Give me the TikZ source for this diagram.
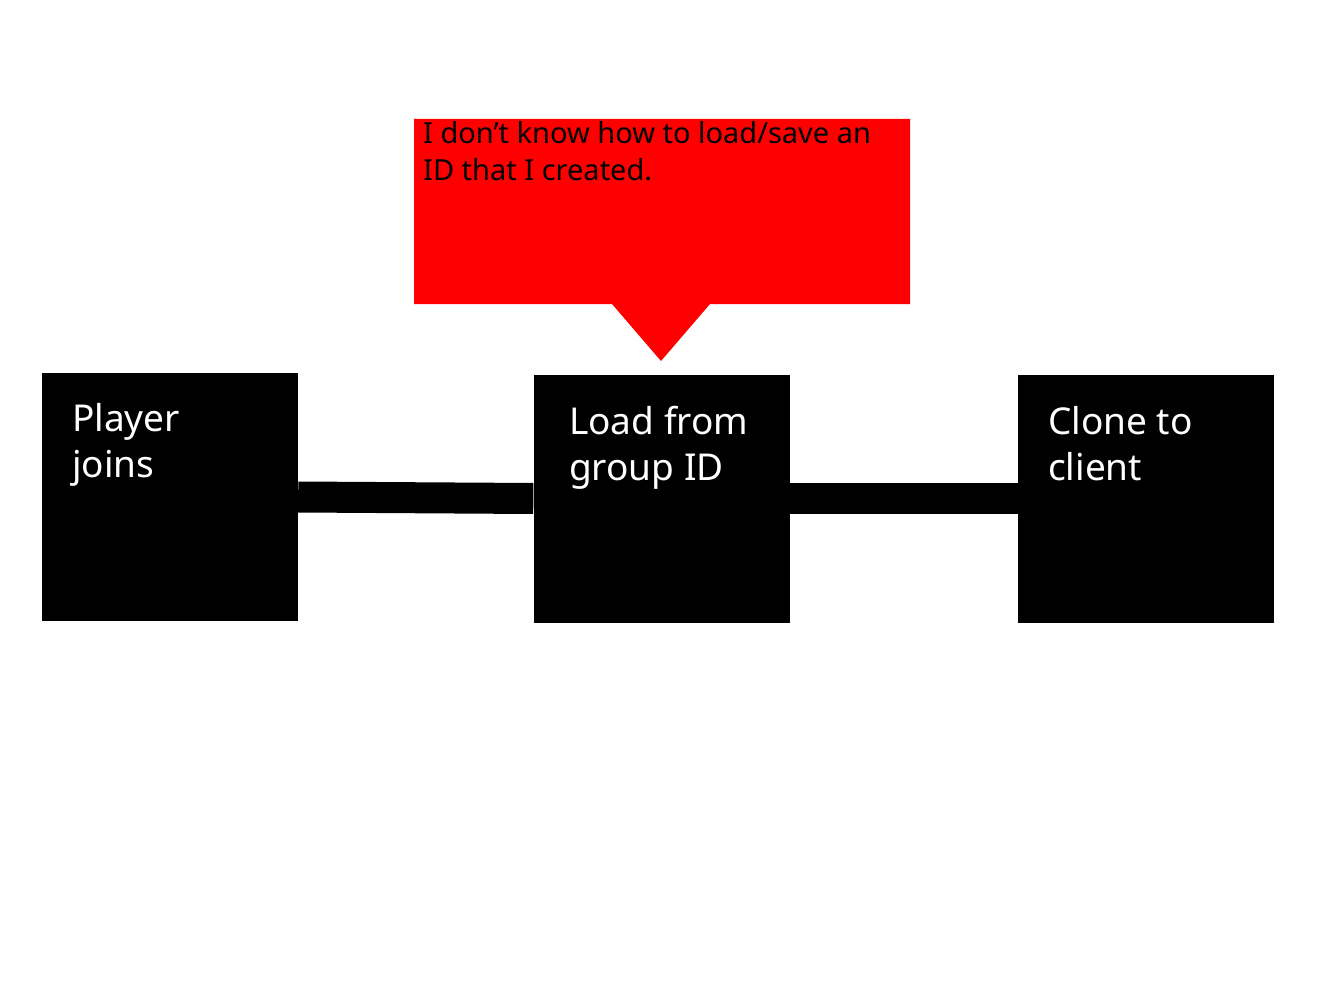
\documentclass[tikz,border=0pt]{standalone}
\usepackage{fontspec}
\setmainfont{Noto Sans}
\begin{document}
\begin{tikzpicture}[x=1pt,y=-1pt,
  box/.style={fill=black,draw=none,minimum width=256pt,minimum height=248pt,inner sep=0pt},
  btxt/.style={anchor=north west,text=white,font=\fontsize{37}{46}\selectfont,align=left,inner sep=0pt},
  link/.style={line width=31pt,draw=black}]
\useasboundingbox (0,0) rectangle (1322,1000);
\node[box] (b1) at (170,497) {};
\node[box] (b2) at (661.5,498.5) {};
\node[box] (b3) at (1146,498.5) {};
\draw[link] (b1.east) -- (b2.west);
\draw[link] (b2.east) -- (b3.west);
\node[btxt] (t1) at (72,403) {Player\\joins};
\node[btxt] (t2) at (569,406) {Load from\\group ID};
\node[btxt] (t3) at (1048,406) {Clone to\\client};
\fill[red] (414,119) -- (910,119) -- (910,304) -- (710,304) -- (661,361) -- (612,304) -- (414,304) -- cycle;
\node[anchor=north west,inner sep=0pt,align=left,font=\fontsize{29}{37}\selectfont] (c) at (423,121) {I don’t know how to load/save an\\ID that I created.};
\end{tikzpicture}
\end{document}
